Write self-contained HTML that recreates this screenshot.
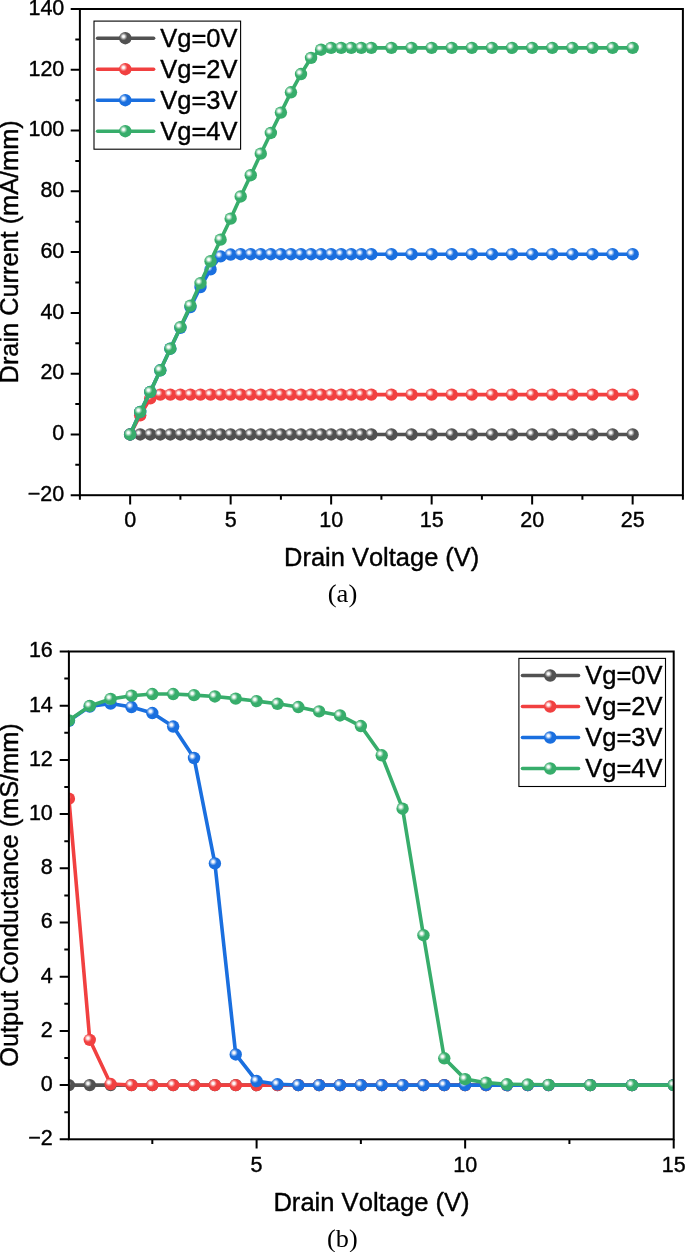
<!DOCTYPE html>
<html><head><meta charset="utf-8"><title>Drain characteristics</title><style>
html,body{margin:0;padding:0;background:#fff;}
body{width:685px;height:1252px;overflow:hidden;}
svg{display:block;}
text{font-kerning:none;stroke:#000;stroke-width:0.4px;stroke-linejoin:round;}
.tk{font-family:"Liberation Sans",Arial,sans-serif;font-size:21.5px;fill:#000;}
.tt{font-family:"Liberation Sans",Arial,sans-serif;font-size:25.5px;fill:#000;}
.lg{font-family:"Liberation Sans",Arial,sans-serif;font-size:25.5px;fill:#000;}
.cap{font-family:"Liberation Serif","DejaVu Serif",serif;font-size:24px;fill:#000;stroke:none;}
</style></head>
<body><svg width="685" height="1252" viewBox="0 0 685 1252">
<defs><radialGradient id="hl" cx="0.5" cy="0.5" r="0.5"><stop offset="0" stop-color="#fff" stop-opacity="1"/><stop offset="0.3" stop-color="#fff" stop-opacity="0.92"/><stop offset="0.65" stop-color="#fff" stop-opacity="0.4"/><stop offset="1" stop-color="#fff" stop-opacity="0"/></radialGradient><clipPath id="ca"><rect x="79.9" y="9.0" width="603" height="486.2"/></clipPath><clipPath id="cb"><rect x="68.9" y="651.5" width="604.8" height="487.8"/></clipPath></defs>
<rect width="685" height="1252" fill="#fff"/>
<g clip-path="url(#ca)"><polyline points="130.15,434.43 140.2,434.43 150.25,434.43 160.3,434.43 170.35,434.43 180.4,434.43 190.45,434.43 200.5,434.43 210.55,434.43 220.6,434.43 230.65,434.43 240.7,434.43 250.75,434.43 260.8,434.43 270.85,434.43 280.9,434.43 290.95,434.43 301,434.43 311.05,434.43 321.1,434.43 331.15,434.43 341.2,434.43 351.25,434.43 361.3,434.43 371.35,434.43 391.45,434.43 411.55,434.43 431.65,434.43 451.75,434.43 471.85,434.43 491.95,434.43 512.05,434.43 532.15,434.43 552.25,434.43 572.35,434.43 592.45,434.43 612.55,434.43 632.65,434.43" fill="none" stroke="#515151" stroke-width="3.6" stroke-linejoin="round"/><circle cx="130.15" cy="434.43" r="6.2" fill="#515151"/><circle cx="128.35" cy="432.73" r="3.9" fill="url(#hl)"/><circle cx="140.2" cy="434.43" r="6.2" fill="#515151"/><circle cx="138.4" cy="432.73" r="3.9" fill="url(#hl)"/><circle cx="150.25" cy="434.43" r="6.2" fill="#515151"/><circle cx="148.45" cy="432.73" r="3.9" fill="url(#hl)"/><circle cx="160.3" cy="434.43" r="6.2" fill="#515151"/><circle cx="158.5" cy="432.73" r="3.9" fill="url(#hl)"/><circle cx="170.35" cy="434.43" r="6.2" fill="#515151"/><circle cx="168.55" cy="432.73" r="3.9" fill="url(#hl)"/><circle cx="180.4" cy="434.43" r="6.2" fill="#515151"/><circle cx="178.6" cy="432.73" r="3.9" fill="url(#hl)"/><circle cx="190.45" cy="434.43" r="6.2" fill="#515151"/><circle cx="188.65" cy="432.73" r="3.9" fill="url(#hl)"/><circle cx="200.5" cy="434.43" r="6.2" fill="#515151"/><circle cx="198.7" cy="432.73" r="3.9" fill="url(#hl)"/><circle cx="210.55" cy="434.43" r="6.2" fill="#515151"/><circle cx="208.75" cy="432.73" r="3.9" fill="url(#hl)"/><circle cx="220.6" cy="434.43" r="6.2" fill="#515151"/><circle cx="218.8" cy="432.73" r="3.9" fill="url(#hl)"/><circle cx="230.65" cy="434.43" r="6.2" fill="#515151"/><circle cx="228.85" cy="432.73" r="3.9" fill="url(#hl)"/><circle cx="240.7" cy="434.43" r="6.2" fill="#515151"/><circle cx="238.9" cy="432.73" r="3.9" fill="url(#hl)"/><circle cx="250.75" cy="434.43" r="6.2" fill="#515151"/><circle cx="248.95" cy="432.73" r="3.9" fill="url(#hl)"/><circle cx="260.8" cy="434.43" r="6.2" fill="#515151"/><circle cx="259" cy="432.73" r="3.9" fill="url(#hl)"/><circle cx="270.85" cy="434.43" r="6.2" fill="#515151"/><circle cx="269.05" cy="432.73" r="3.9" fill="url(#hl)"/><circle cx="280.9" cy="434.43" r="6.2" fill="#515151"/><circle cx="279.1" cy="432.73" r="3.9" fill="url(#hl)"/><circle cx="290.95" cy="434.43" r="6.2" fill="#515151"/><circle cx="289.15" cy="432.73" r="3.9" fill="url(#hl)"/><circle cx="301" cy="434.43" r="6.2" fill="#515151"/><circle cx="299.2" cy="432.73" r="3.9" fill="url(#hl)"/><circle cx="311.05" cy="434.43" r="6.2" fill="#515151"/><circle cx="309.25" cy="432.73" r="3.9" fill="url(#hl)"/><circle cx="321.1" cy="434.43" r="6.2" fill="#515151"/><circle cx="319.3" cy="432.73" r="3.9" fill="url(#hl)"/><circle cx="331.15" cy="434.43" r="6.2" fill="#515151"/><circle cx="329.35" cy="432.73" r="3.9" fill="url(#hl)"/><circle cx="341.2" cy="434.43" r="6.2" fill="#515151"/><circle cx="339.4" cy="432.73" r="3.9" fill="url(#hl)"/><circle cx="351.25" cy="434.43" r="6.2" fill="#515151"/><circle cx="349.45" cy="432.73" r="3.9" fill="url(#hl)"/><circle cx="361.3" cy="434.43" r="6.2" fill="#515151"/><circle cx="359.5" cy="432.73" r="3.9" fill="url(#hl)"/><circle cx="371.35" cy="434.43" r="6.2" fill="#515151"/><circle cx="369.55" cy="432.73" r="3.9" fill="url(#hl)"/><circle cx="391.45" cy="434.43" r="6.2" fill="#515151"/><circle cx="389.65" cy="432.73" r="3.9" fill="url(#hl)"/><circle cx="411.55" cy="434.43" r="6.2" fill="#515151"/><circle cx="409.75" cy="432.73" r="3.9" fill="url(#hl)"/><circle cx="431.65" cy="434.43" r="6.2" fill="#515151"/><circle cx="429.85" cy="432.73" r="3.9" fill="url(#hl)"/><circle cx="451.75" cy="434.43" r="6.2" fill="#515151"/><circle cx="449.95" cy="432.73" r="3.9" fill="url(#hl)"/><circle cx="471.85" cy="434.43" r="6.2" fill="#515151"/><circle cx="470.05" cy="432.73" r="3.9" fill="url(#hl)"/><circle cx="491.95" cy="434.43" r="6.2" fill="#515151"/><circle cx="490.15" cy="432.73" r="3.9" fill="url(#hl)"/><circle cx="512.05" cy="434.43" r="6.2" fill="#515151"/><circle cx="510.25" cy="432.73" r="3.9" fill="url(#hl)"/><circle cx="532.15" cy="434.43" r="6.2" fill="#515151"/><circle cx="530.35" cy="432.73" r="3.9" fill="url(#hl)"/><circle cx="552.25" cy="434.43" r="6.2" fill="#515151"/><circle cx="550.45" cy="432.73" r="3.9" fill="url(#hl)"/><circle cx="572.35" cy="434.43" r="6.2" fill="#515151"/><circle cx="570.55" cy="432.73" r="3.9" fill="url(#hl)"/><circle cx="592.45" cy="434.43" r="6.2" fill="#515151"/><circle cx="590.65" cy="432.73" r="3.9" fill="url(#hl)"/><circle cx="612.55" cy="434.43" r="6.2" fill="#515151"/><circle cx="610.75" cy="432.73" r="3.9" fill="url(#hl)"/><circle cx="632.65" cy="434.43" r="6.2" fill="#515151"/><circle cx="630.85" cy="432.73" r="3.9" fill="url(#hl)"/></g><g clip-path="url(#ca)"><polyline points="130.15,434.43 140.2,415.28 150.25,398.26 160.3,394.62 170.35,394.62 180.4,394.62 190.45,394.62 200.5,394.62 210.55,394.62 220.6,394.62 230.65,394.62 240.7,394.62 250.75,394.62 260.8,394.62 270.85,394.62 280.9,394.62 290.95,394.62 301,394.62 311.05,394.62 321.1,394.62 331.15,394.62 341.2,394.62 351.25,394.62 361.3,394.62 371.35,394.62 391.45,394.62 411.55,394.62 431.65,394.62 451.75,394.62 471.85,394.62 491.95,394.62 512.05,394.62 532.15,394.62 552.25,394.62 572.35,394.62 592.45,394.62 612.55,394.62 632.65,394.62" fill="none" stroke="#F14040" stroke-width="3.6" stroke-linejoin="round"/><circle cx="130.15" cy="434.43" r="6.2" fill="#F14040"/><circle cx="128.35" cy="432.73" r="3.9" fill="url(#hl)"/><circle cx="140.2" cy="415.28" r="6.2" fill="#F14040"/><circle cx="138.4" cy="413.58" r="3.9" fill="url(#hl)"/><circle cx="150.25" cy="398.26" r="6.2" fill="#F14040"/><circle cx="148.45" cy="396.56" r="3.9" fill="url(#hl)"/><circle cx="160.3" cy="394.62" r="6.2" fill="#F14040"/><circle cx="158.5" cy="392.92" r="3.9" fill="url(#hl)"/><circle cx="170.35" cy="394.62" r="6.2" fill="#F14040"/><circle cx="168.55" cy="392.92" r="3.9" fill="url(#hl)"/><circle cx="180.4" cy="394.62" r="6.2" fill="#F14040"/><circle cx="178.6" cy="392.92" r="3.9" fill="url(#hl)"/><circle cx="190.45" cy="394.62" r="6.2" fill="#F14040"/><circle cx="188.65" cy="392.92" r="3.9" fill="url(#hl)"/><circle cx="200.5" cy="394.62" r="6.2" fill="#F14040"/><circle cx="198.7" cy="392.92" r="3.9" fill="url(#hl)"/><circle cx="210.55" cy="394.62" r="6.2" fill="#F14040"/><circle cx="208.75" cy="392.92" r="3.9" fill="url(#hl)"/><circle cx="220.6" cy="394.62" r="6.2" fill="#F14040"/><circle cx="218.8" cy="392.92" r="3.9" fill="url(#hl)"/><circle cx="230.65" cy="394.62" r="6.2" fill="#F14040"/><circle cx="228.85" cy="392.92" r="3.9" fill="url(#hl)"/><circle cx="240.7" cy="394.62" r="6.2" fill="#F14040"/><circle cx="238.9" cy="392.92" r="3.9" fill="url(#hl)"/><circle cx="250.75" cy="394.62" r="6.2" fill="#F14040"/><circle cx="248.95" cy="392.92" r="3.9" fill="url(#hl)"/><circle cx="260.8" cy="394.62" r="6.2" fill="#F14040"/><circle cx="259" cy="392.92" r="3.9" fill="url(#hl)"/><circle cx="270.85" cy="394.62" r="6.2" fill="#F14040"/><circle cx="269.05" cy="392.92" r="3.9" fill="url(#hl)"/><circle cx="280.9" cy="394.62" r="6.2" fill="#F14040"/><circle cx="279.1" cy="392.92" r="3.9" fill="url(#hl)"/><circle cx="290.95" cy="394.62" r="6.2" fill="#F14040"/><circle cx="289.15" cy="392.92" r="3.9" fill="url(#hl)"/><circle cx="301" cy="394.62" r="6.2" fill="#F14040"/><circle cx="299.2" cy="392.92" r="3.9" fill="url(#hl)"/><circle cx="311.05" cy="394.62" r="6.2" fill="#F14040"/><circle cx="309.25" cy="392.92" r="3.9" fill="url(#hl)"/><circle cx="321.1" cy="394.62" r="6.2" fill="#F14040"/><circle cx="319.3" cy="392.92" r="3.9" fill="url(#hl)"/><circle cx="331.15" cy="394.62" r="6.2" fill="#F14040"/><circle cx="329.35" cy="392.92" r="3.9" fill="url(#hl)"/><circle cx="341.2" cy="394.62" r="6.2" fill="#F14040"/><circle cx="339.4" cy="392.92" r="3.9" fill="url(#hl)"/><circle cx="351.25" cy="394.62" r="6.2" fill="#F14040"/><circle cx="349.45" cy="392.92" r="3.9" fill="url(#hl)"/><circle cx="361.3" cy="394.62" r="6.2" fill="#F14040"/><circle cx="359.5" cy="392.92" r="3.9" fill="url(#hl)"/><circle cx="371.35" cy="394.62" r="6.2" fill="#F14040"/><circle cx="369.55" cy="392.92" r="3.9" fill="url(#hl)"/><circle cx="391.45" cy="394.62" r="6.2" fill="#F14040"/><circle cx="389.65" cy="392.92" r="3.9" fill="url(#hl)"/><circle cx="411.55" cy="394.62" r="6.2" fill="#F14040"/><circle cx="409.75" cy="392.92" r="3.9" fill="url(#hl)"/><circle cx="431.65" cy="394.62" r="6.2" fill="#F14040"/><circle cx="429.85" cy="392.92" r="3.9" fill="url(#hl)"/><circle cx="451.75" cy="394.62" r="6.2" fill="#F14040"/><circle cx="449.95" cy="392.92" r="3.9" fill="url(#hl)"/><circle cx="471.85" cy="394.62" r="6.2" fill="#F14040"/><circle cx="470.05" cy="392.92" r="3.9" fill="url(#hl)"/><circle cx="491.95" cy="394.62" r="6.2" fill="#F14040"/><circle cx="490.15" cy="392.92" r="3.9" fill="url(#hl)"/><circle cx="512.05" cy="394.62" r="6.2" fill="#F14040"/><circle cx="510.25" cy="392.92" r="3.9" fill="url(#hl)"/><circle cx="532.15" cy="394.62" r="6.2" fill="#F14040"/><circle cx="530.35" cy="392.92" r="3.9" fill="url(#hl)"/><circle cx="552.25" cy="394.62" r="6.2" fill="#F14040"/><circle cx="550.45" cy="392.92" r="3.9" fill="url(#hl)"/><circle cx="572.35" cy="394.62" r="6.2" fill="#F14040"/><circle cx="570.55" cy="392.92" r="3.9" fill="url(#hl)"/><circle cx="592.45" cy="394.62" r="6.2" fill="#F14040"/><circle cx="590.65" cy="392.92" r="3.9" fill="url(#hl)"/><circle cx="612.55" cy="394.62" r="6.2" fill="#F14040"/><circle cx="610.75" cy="392.92" r="3.9" fill="url(#hl)"/><circle cx="632.65" cy="394.62" r="6.2" fill="#F14040"/><circle cx="630.85" cy="392.92" r="3.9" fill="url(#hl)"/></g><g clip-path="url(#ca)"><polyline points="130.15,434.43 140.2,411.94 150.25,391.88 160.3,370.31 170.35,348.73 180.4,327.76 190.45,307.1 200.5,287.05 210.55,269.42 220.6,256.35 230.65,254.53 240.7,254.23 250.75,254.23 260.8,254.23 270.85,254.23 280.9,254.23 290.95,254.23 301,254.23 311.05,254.23 321.1,254.23 331.15,254.23 341.2,254.23 351.25,254.23 361.3,254.23 371.35,254.23 391.45,254.23 411.55,254.23 431.65,254.23 451.75,254.23 471.85,254.23 491.95,254.23 512.05,254.23 532.15,254.23 552.25,254.23 572.35,254.23 592.45,254.23 612.55,254.23 632.65,254.23" fill="none" stroke="#1A6FDF" stroke-width="3.6" stroke-linejoin="round"/><circle cx="130.15" cy="434.43" r="6.2" fill="#1A6FDF"/><circle cx="128.35" cy="432.73" r="3.9" fill="url(#hl)"/><circle cx="140.2" cy="411.94" r="6.2" fill="#1A6FDF"/><circle cx="138.4" cy="410.24" r="3.9" fill="url(#hl)"/><circle cx="150.25" cy="391.88" r="6.2" fill="#1A6FDF"/><circle cx="148.45" cy="390.18" r="3.9" fill="url(#hl)"/><circle cx="160.3" cy="370.31" r="6.2" fill="#1A6FDF"/><circle cx="158.5" cy="368.61" r="3.9" fill="url(#hl)"/><circle cx="170.35" cy="348.73" r="6.2" fill="#1A6FDF"/><circle cx="168.55" cy="347.03" r="3.9" fill="url(#hl)"/><circle cx="180.4" cy="327.76" r="6.2" fill="#1A6FDF"/><circle cx="178.6" cy="326.06" r="3.9" fill="url(#hl)"/><circle cx="190.45" cy="307.1" r="6.2" fill="#1A6FDF"/><circle cx="188.65" cy="305.4" r="3.9" fill="url(#hl)"/><circle cx="200.5" cy="287.05" r="6.2" fill="#1A6FDF"/><circle cx="198.7" cy="285.35" r="3.9" fill="url(#hl)"/><circle cx="210.55" cy="269.42" r="6.2" fill="#1A6FDF"/><circle cx="208.75" cy="267.72" r="3.9" fill="url(#hl)"/><circle cx="220.6" cy="256.35" r="6.2" fill="#1A6FDF"/><circle cx="218.8" cy="254.65" r="3.9" fill="url(#hl)"/><circle cx="230.65" cy="254.53" r="6.2" fill="#1A6FDF"/><circle cx="228.85" cy="252.83" r="3.9" fill="url(#hl)"/><circle cx="240.7" cy="254.23" r="6.2" fill="#1A6FDF"/><circle cx="238.9" cy="252.53" r="3.9" fill="url(#hl)"/><circle cx="250.75" cy="254.23" r="6.2" fill="#1A6FDF"/><circle cx="248.95" cy="252.53" r="3.9" fill="url(#hl)"/><circle cx="260.8" cy="254.23" r="6.2" fill="#1A6FDF"/><circle cx="259" cy="252.53" r="3.9" fill="url(#hl)"/><circle cx="270.85" cy="254.23" r="6.2" fill="#1A6FDF"/><circle cx="269.05" cy="252.53" r="3.9" fill="url(#hl)"/><circle cx="280.9" cy="254.23" r="6.2" fill="#1A6FDF"/><circle cx="279.1" cy="252.53" r="3.9" fill="url(#hl)"/><circle cx="290.95" cy="254.23" r="6.2" fill="#1A6FDF"/><circle cx="289.15" cy="252.53" r="3.9" fill="url(#hl)"/><circle cx="301" cy="254.23" r="6.2" fill="#1A6FDF"/><circle cx="299.2" cy="252.53" r="3.9" fill="url(#hl)"/><circle cx="311.05" cy="254.23" r="6.2" fill="#1A6FDF"/><circle cx="309.25" cy="252.53" r="3.9" fill="url(#hl)"/><circle cx="321.1" cy="254.23" r="6.2" fill="#1A6FDF"/><circle cx="319.3" cy="252.53" r="3.9" fill="url(#hl)"/><circle cx="331.15" cy="254.23" r="6.2" fill="#1A6FDF"/><circle cx="329.35" cy="252.53" r="3.9" fill="url(#hl)"/><circle cx="341.2" cy="254.23" r="6.2" fill="#1A6FDF"/><circle cx="339.4" cy="252.53" r="3.9" fill="url(#hl)"/><circle cx="351.25" cy="254.23" r="6.2" fill="#1A6FDF"/><circle cx="349.45" cy="252.53" r="3.9" fill="url(#hl)"/><circle cx="361.3" cy="254.23" r="6.2" fill="#1A6FDF"/><circle cx="359.5" cy="252.53" r="3.9" fill="url(#hl)"/><circle cx="371.35" cy="254.23" r="6.2" fill="#1A6FDF"/><circle cx="369.55" cy="252.53" r="3.9" fill="url(#hl)"/><circle cx="391.45" cy="254.23" r="6.2" fill="#1A6FDF"/><circle cx="389.65" cy="252.53" r="3.9" fill="url(#hl)"/><circle cx="411.55" cy="254.23" r="6.2" fill="#1A6FDF"/><circle cx="409.75" cy="252.53" r="3.9" fill="url(#hl)"/><circle cx="431.65" cy="254.23" r="6.2" fill="#1A6FDF"/><circle cx="429.85" cy="252.53" r="3.9" fill="url(#hl)"/><circle cx="451.75" cy="254.23" r="6.2" fill="#1A6FDF"/><circle cx="449.95" cy="252.53" r="3.9" fill="url(#hl)"/><circle cx="471.85" cy="254.23" r="6.2" fill="#1A6FDF"/><circle cx="470.05" cy="252.53" r="3.9" fill="url(#hl)"/><circle cx="491.95" cy="254.23" r="6.2" fill="#1A6FDF"/><circle cx="490.15" cy="252.53" r="3.9" fill="url(#hl)"/><circle cx="512.05" cy="254.23" r="6.2" fill="#1A6FDF"/><circle cx="510.25" cy="252.53" r="3.9" fill="url(#hl)"/><circle cx="532.15" cy="254.23" r="6.2" fill="#1A6FDF"/><circle cx="530.35" cy="252.53" r="3.9" fill="url(#hl)"/><circle cx="552.25" cy="254.23" r="6.2" fill="#1A6FDF"/><circle cx="550.45" cy="252.53" r="3.9" fill="url(#hl)"/><circle cx="572.35" cy="254.23" r="6.2" fill="#1A6FDF"/><circle cx="570.55" cy="252.53" r="3.9" fill="url(#hl)"/><circle cx="592.45" cy="254.23" r="6.2" fill="#1A6FDF"/><circle cx="590.65" cy="252.53" r="3.9" fill="url(#hl)"/><circle cx="612.55" cy="254.23" r="6.2" fill="#1A6FDF"/><circle cx="610.75" cy="252.53" r="3.9" fill="url(#hl)"/><circle cx="632.65" cy="254.23" r="6.2" fill="#1A6FDF"/><circle cx="630.85" cy="252.53" r="3.9" fill="url(#hl)"/></g><g clip-path="url(#ca)"><polyline points="130.15,434.43 140.2,411.94 150.25,391.88 160.3,370.31 170.35,348.73 180.4,327.16 190.45,305.58 200.5,283.1 210.55,261.22 220.6,239.64 230.65,218.67 240.7,196.49 250.75,175.22 260.8,153.64 270.85,132.98 280.9,112.62 290.95,92.26 301,74.03 311.05,57.92 321.1,49.72 331.15,47.9 341.2,47.9 351.25,47.9 361.3,47.9 371.35,47.9 391.45,47.9 411.55,47.9 431.65,47.9 451.75,47.9 471.85,47.9 491.95,47.9 512.05,47.9 532.15,47.9 552.25,47.9 572.35,47.9 592.45,47.9 612.55,47.9 632.65,47.9" fill="none" stroke="#37AD6B" stroke-width="3.6" stroke-linejoin="round"/><circle cx="130.15" cy="434.43" r="6.2" fill="#37AD6B"/><circle cx="128.35" cy="432.73" r="3.9" fill="url(#hl)"/><circle cx="140.2" cy="411.94" r="6.2" fill="#37AD6B"/><circle cx="138.4" cy="410.24" r="3.9" fill="url(#hl)"/><circle cx="150.25" cy="391.88" r="6.2" fill="#37AD6B"/><circle cx="148.45" cy="390.18" r="3.9" fill="url(#hl)"/><circle cx="160.3" cy="370.31" r="6.2" fill="#37AD6B"/><circle cx="158.5" cy="368.61" r="3.9" fill="url(#hl)"/><circle cx="170.35" cy="348.73" r="6.2" fill="#37AD6B"/><circle cx="168.55" cy="347.03" r="3.9" fill="url(#hl)"/><circle cx="180.4" cy="327.16" r="6.2" fill="#37AD6B"/><circle cx="178.6" cy="325.46" r="3.9" fill="url(#hl)"/><circle cx="190.45" cy="305.58" r="6.2" fill="#37AD6B"/><circle cx="188.65" cy="303.88" r="3.9" fill="url(#hl)"/><circle cx="200.5" cy="283.1" r="6.2" fill="#37AD6B"/><circle cx="198.7" cy="281.4" r="3.9" fill="url(#hl)"/><circle cx="210.55" cy="261.22" r="6.2" fill="#37AD6B"/><circle cx="208.75" cy="259.52" r="3.9" fill="url(#hl)"/><circle cx="220.6" cy="239.64" r="6.2" fill="#37AD6B"/><circle cx="218.8" cy="237.94" r="3.9" fill="url(#hl)"/><circle cx="230.65" cy="218.67" r="6.2" fill="#37AD6B"/><circle cx="228.85" cy="216.97" r="3.9" fill="url(#hl)"/><circle cx="240.7" cy="196.49" r="6.2" fill="#37AD6B"/><circle cx="238.9" cy="194.79" r="3.9" fill="url(#hl)"/><circle cx="250.75" cy="175.22" r="6.2" fill="#37AD6B"/><circle cx="248.95" cy="173.52" r="3.9" fill="url(#hl)"/><circle cx="260.8" cy="153.64" r="6.2" fill="#37AD6B"/><circle cx="259" cy="151.94" r="3.9" fill="url(#hl)"/><circle cx="270.85" cy="132.98" r="6.2" fill="#37AD6B"/><circle cx="269.05" cy="131.28" r="3.9" fill="url(#hl)"/><circle cx="280.9" cy="112.62" r="6.2" fill="#37AD6B"/><circle cx="279.1" cy="110.92" r="3.9" fill="url(#hl)"/><circle cx="290.95" cy="92.26" r="6.2" fill="#37AD6B"/><circle cx="289.15" cy="90.56" r="3.9" fill="url(#hl)"/><circle cx="301" cy="74.03" r="6.2" fill="#37AD6B"/><circle cx="299.2" cy="72.33" r="3.9" fill="url(#hl)"/><circle cx="311.05" cy="57.92" r="6.2" fill="#37AD6B"/><circle cx="309.25" cy="56.22" r="3.9" fill="url(#hl)"/><circle cx="321.1" cy="49.72" r="6.2" fill="#37AD6B"/><circle cx="319.3" cy="48.02" r="3.9" fill="url(#hl)"/><circle cx="331.15" cy="47.9" r="6.2" fill="#37AD6B"/><circle cx="329.35" cy="46.2" r="3.9" fill="url(#hl)"/><circle cx="341.2" cy="47.9" r="6.2" fill="#37AD6B"/><circle cx="339.4" cy="46.2" r="3.9" fill="url(#hl)"/><circle cx="351.25" cy="47.9" r="6.2" fill="#37AD6B"/><circle cx="349.45" cy="46.2" r="3.9" fill="url(#hl)"/><circle cx="361.3" cy="47.9" r="6.2" fill="#37AD6B"/><circle cx="359.5" cy="46.2" r="3.9" fill="url(#hl)"/><circle cx="371.35" cy="47.9" r="6.2" fill="#37AD6B"/><circle cx="369.55" cy="46.2" r="3.9" fill="url(#hl)"/><circle cx="391.45" cy="47.9" r="6.2" fill="#37AD6B"/><circle cx="389.65" cy="46.2" r="3.9" fill="url(#hl)"/><circle cx="411.55" cy="47.9" r="6.2" fill="#37AD6B"/><circle cx="409.75" cy="46.2" r="3.9" fill="url(#hl)"/><circle cx="431.65" cy="47.9" r="6.2" fill="#37AD6B"/><circle cx="429.85" cy="46.2" r="3.9" fill="url(#hl)"/><circle cx="451.75" cy="47.9" r="6.2" fill="#37AD6B"/><circle cx="449.95" cy="46.2" r="3.9" fill="url(#hl)"/><circle cx="471.85" cy="47.9" r="6.2" fill="#37AD6B"/><circle cx="470.05" cy="46.2" r="3.9" fill="url(#hl)"/><circle cx="491.95" cy="47.9" r="6.2" fill="#37AD6B"/><circle cx="490.15" cy="46.2" r="3.9" fill="url(#hl)"/><circle cx="512.05" cy="47.9" r="6.2" fill="#37AD6B"/><circle cx="510.25" cy="46.2" r="3.9" fill="url(#hl)"/><circle cx="532.15" cy="47.9" r="6.2" fill="#37AD6B"/><circle cx="530.35" cy="46.2" r="3.9" fill="url(#hl)"/><circle cx="552.25" cy="47.9" r="6.2" fill="#37AD6B"/><circle cx="550.45" cy="46.2" r="3.9" fill="url(#hl)"/><circle cx="572.35" cy="47.9" r="6.2" fill="#37AD6B"/><circle cx="570.55" cy="46.2" r="3.9" fill="url(#hl)"/><circle cx="592.45" cy="47.9" r="6.2" fill="#37AD6B"/><circle cx="590.65" cy="46.2" r="3.9" fill="url(#hl)"/><circle cx="612.55" cy="47.9" r="6.2" fill="#37AD6B"/><circle cx="610.75" cy="46.2" r="3.9" fill="url(#hl)"/><circle cx="632.65" cy="47.9" r="6.2" fill="#37AD6B"/><circle cx="630.85" cy="46.2" r="3.9" fill="url(#hl)"/></g><rect x="79.9" y="9" width="603" height="486.2" fill="none" stroke="#000" stroke-width="2.0"/><path d="M70.7 495.2H79.9M70.7 434.43H79.9M70.7 373.65H79.9M70.7 312.88H79.9M70.7 252.1H79.9M70.7 191.32H79.9M70.7 130.55H79.9M70.7 69.77H79.9M70.7 9H79.9M75.3 464.81H79.9M75.3 404.04H79.9M75.3 343.26H79.9M75.3 282.49H79.9M75.3 221.71H79.9M75.3 160.94H79.9M75.3 100.16H79.9M75.3 39.39H79.9M130.15 495.2V504.4M230.65 495.2V504.4M331.15 495.2V504.4M431.65 495.2V504.4M532.15 495.2V504.4M632.65 495.2V504.4M79.9 495.2V499.8M180.4 495.2V499.8M280.9 495.2V499.8M381.4 495.2V499.8M481.9 495.2V499.8M582.4 495.2V499.8M682.9 495.2V499.8" stroke="#000" stroke-width="2.0" fill="none"/><text x="64.3" y="501" text-anchor="end" class="tk">−20</text><text x="64.3" y="440.23" text-anchor="end" class="tk">0</text><text x="64.3" y="379.45" text-anchor="end" class="tk">20</text><text x="64.3" y="318.68" text-anchor="end" class="tk">40</text><text x="64.3" y="257.9" text-anchor="end" class="tk">60</text><text x="64.3" y="197.12" text-anchor="end" class="tk">80</text><text x="64.3" y="136.35" text-anchor="end" class="tk">100</text><text x="64.3" y="75.57" text-anchor="end" class="tk">120</text><text x="64.3" y="14.8" text-anchor="end" class="tk">140</text><text x="130.15" y="526.8" text-anchor="middle" class="tk">0</text><text x="230.65" y="526.8" text-anchor="middle" class="tk">5</text><text x="331.15" y="526.8" text-anchor="middle" class="tk">10</text><text x="431.65" y="526.8" text-anchor="middle" class="tk">15</text><text x="532.15" y="526.8" text-anchor="middle" class="tk">20</text><text x="632.65" y="526.8" text-anchor="middle" class="tk">25</text><rect x="94" y="21.1" width="146.6" height="128.1" fill="#fff" stroke="#000" stroke-width="1.1"/><line x1="97.6" y1="38.2" x2="153.6" y2="38.2" stroke="#515151" stroke-width="3.6" stroke-linecap="round"/><circle cx="125.3" cy="38.2" r="6.2" fill="#515151"/><circle cx="123.5" cy="36.5" r="3.9" fill="url(#hl)"/><text x="160.29" y="46.8" class="lg">Vg=0V</text><line x1="97.6" y1="69.2" x2="153.6" y2="69.2" stroke="#F14040" stroke-width="3.6" stroke-linecap="round"/><circle cx="125.3" cy="69.2" r="6.2" fill="#F14040"/><circle cx="123.5" cy="67.5" r="3.9" fill="url(#hl)"/><text x="160.29" y="77.8" class="lg">Vg=2V</text><line x1="97.6" y1="100.2" x2="153.6" y2="100.2" stroke="#1A6FDF" stroke-width="3.6" stroke-linecap="round"/><circle cx="125.3" cy="100.2" r="6.2" fill="#1A6FDF"/><circle cx="123.5" cy="98.5" r="3.9" fill="url(#hl)"/><text x="160.29" y="108.8" class="lg">Vg=3V</text><line x1="97.6" y1="131.2" x2="153.6" y2="131.2" stroke="#37AD6B" stroke-width="3.6" stroke-linecap="round"/><circle cx="125.3" cy="131.2" r="6.2" fill="#37AD6B"/><circle cx="123.5" cy="129.5" r="3.9" fill="url(#hl)"/><text x="160.29" y="139.8" class="lg">Vg=4V</text><text transform="matrix(0.9984 0 0 1.0317 284.11 566.00)" class="tt">Drain Voltage (V)</text><text transform="translate(18.0,383.38) rotate(-90) scale(0.9933,1)" class="tt">Drain Current (mA/mm)</text><text transform="matrix(1.1090 0 0 1.0247 327.73 601.66)" class="cap">(a)</text><g clip-path="url(#cb)"><polyline points="68.9,1085.1 89.76,1085.1 110.61,1085.1 131.47,1085.1 152.32,1085.1 173.18,1085.1 194.03,1085.1 214.89,1085.1 235.74,1085.1 256.6,1085.1 277.45,1085.1 298.31,1085.1 319.16,1085.1 340.02,1085.1 360.87,1085.1 381.73,1085.1 402.58,1085.1 423.44,1085.1 444.29,1085.1 465.15,1085.1 486,1085.1 506.86,1085.1 527.71,1085.1 548.57,1085.1 590.28,1085.1 631.99,1085.1 673.7,1085.1" fill="none" stroke="#515151" stroke-width="3.6" stroke-linejoin="round"/><circle cx="68.9" cy="1085.1" r="6.2" fill="#515151"/><circle cx="67.1" cy="1083.4" r="3.9" fill="url(#hl)"/><circle cx="89.76" cy="1085.1" r="6.2" fill="#515151"/><circle cx="87.96" cy="1083.4" r="3.9" fill="url(#hl)"/><circle cx="110.61" cy="1085.1" r="6.2" fill="#515151"/><circle cx="108.81" cy="1083.4" r="3.9" fill="url(#hl)"/><circle cx="131.47" cy="1085.1" r="6.2" fill="#515151"/><circle cx="129.67" cy="1083.4" r="3.9" fill="url(#hl)"/><circle cx="152.32" cy="1085.1" r="6.2" fill="#515151"/><circle cx="150.52" cy="1083.4" r="3.9" fill="url(#hl)"/><circle cx="173.18" cy="1085.1" r="6.2" fill="#515151"/><circle cx="171.38" cy="1083.4" r="3.9" fill="url(#hl)"/><circle cx="194.03" cy="1085.1" r="6.2" fill="#515151"/><circle cx="192.23" cy="1083.4" r="3.9" fill="url(#hl)"/><circle cx="214.89" cy="1085.1" r="6.2" fill="#515151"/><circle cx="213.09" cy="1083.4" r="3.9" fill="url(#hl)"/><circle cx="235.74" cy="1085.1" r="6.2" fill="#515151"/><circle cx="233.94" cy="1083.4" r="3.9" fill="url(#hl)"/><circle cx="256.6" cy="1085.1" r="6.2" fill="#515151"/><circle cx="254.8" cy="1083.4" r="3.9" fill="url(#hl)"/><circle cx="277.45" cy="1085.1" r="6.2" fill="#515151"/><circle cx="275.65" cy="1083.4" r="3.9" fill="url(#hl)"/><circle cx="298.31" cy="1085.1" r="6.2" fill="#515151"/><circle cx="296.51" cy="1083.4" r="3.9" fill="url(#hl)"/><circle cx="319.16" cy="1085.1" r="6.2" fill="#515151"/><circle cx="317.36" cy="1083.4" r="3.9" fill="url(#hl)"/><circle cx="340.02" cy="1085.1" r="6.2" fill="#515151"/><circle cx="338.22" cy="1083.4" r="3.9" fill="url(#hl)"/><circle cx="360.87" cy="1085.1" r="6.2" fill="#515151"/><circle cx="359.07" cy="1083.4" r="3.9" fill="url(#hl)"/><circle cx="381.73" cy="1085.1" r="6.2" fill="#515151"/><circle cx="379.93" cy="1083.4" r="3.9" fill="url(#hl)"/><circle cx="402.58" cy="1085.1" r="6.2" fill="#515151"/><circle cx="400.78" cy="1083.4" r="3.9" fill="url(#hl)"/><circle cx="423.44" cy="1085.1" r="6.2" fill="#515151"/><circle cx="421.64" cy="1083.4" r="3.9" fill="url(#hl)"/><circle cx="444.29" cy="1085.1" r="6.2" fill="#515151"/><circle cx="442.49" cy="1083.4" r="3.9" fill="url(#hl)"/><circle cx="465.15" cy="1085.1" r="6.2" fill="#515151"/><circle cx="463.35" cy="1083.4" r="3.9" fill="url(#hl)"/><circle cx="486" cy="1085.1" r="6.2" fill="#515151"/><circle cx="484.2" cy="1083.4" r="3.9" fill="url(#hl)"/><circle cx="506.86" cy="1085.1" r="6.2" fill="#515151"/><circle cx="505.06" cy="1083.4" r="3.9" fill="url(#hl)"/><circle cx="527.71" cy="1085.1" r="6.2" fill="#515151"/><circle cx="525.91" cy="1083.4" r="3.9" fill="url(#hl)"/><circle cx="548.57" cy="1085.1" r="6.2" fill="#515151"/><circle cx="546.77" cy="1083.4" r="3.9" fill="url(#hl)"/><circle cx="590.28" cy="1085.1" r="6.2" fill="#515151"/><circle cx="588.48" cy="1083.4" r="3.9" fill="url(#hl)"/><circle cx="631.99" cy="1085.1" r="6.2" fill="#515151"/><circle cx="630.19" cy="1083.4" r="3.9" fill="url(#hl)"/><circle cx="673.7" cy="1085.1" r="6.2" fill="#515151"/><circle cx="671.9" cy="1083.4" r="3.9" fill="url(#hl)"/></g><g clip-path="url(#cb)"><polyline points="68.9,798.65 89.76,1039.84 110.61,1084.02 131.47,1085.1 152.32,1085.1 173.18,1085.1 194.03,1085.1 214.89,1085.1 235.74,1085.1 256.6,1085.1 277.45,1085.1 298.31,1085.1 319.16,1085.1 340.02,1085.1 360.87,1085.1 381.73,1085.1 402.58,1085.1 423.44,1085.1 444.29,1085.1 465.15,1085.1 486,1085.1 506.86,1085.1 527.71,1085.1 548.57,1085.1 590.28,1085.1 631.99,1085.1 673.7,1085.1" fill="none" stroke="#F14040" stroke-width="3.6" stroke-linejoin="round"/><circle cx="68.9" cy="798.65" r="6.2" fill="#F14040"/><circle cx="67.1" cy="796.95" r="3.9" fill="url(#hl)"/><circle cx="89.76" cy="1039.84" r="6.2" fill="#F14040"/><circle cx="87.96" cy="1038.14" r="3.9" fill="url(#hl)"/><circle cx="110.61" cy="1084.02" r="6.2" fill="#F14040"/><circle cx="108.81" cy="1082.32" r="3.9" fill="url(#hl)"/><circle cx="131.47" cy="1085.1" r="6.2" fill="#F14040"/><circle cx="129.67" cy="1083.4" r="3.9" fill="url(#hl)"/><circle cx="152.32" cy="1085.1" r="6.2" fill="#F14040"/><circle cx="150.52" cy="1083.4" r="3.9" fill="url(#hl)"/><circle cx="173.18" cy="1085.1" r="6.2" fill="#F14040"/><circle cx="171.38" cy="1083.4" r="3.9" fill="url(#hl)"/><circle cx="194.03" cy="1085.1" r="6.2" fill="#F14040"/><circle cx="192.23" cy="1083.4" r="3.9" fill="url(#hl)"/><circle cx="214.89" cy="1085.1" r="6.2" fill="#F14040"/><circle cx="213.09" cy="1083.4" r="3.9" fill="url(#hl)"/><circle cx="235.74" cy="1085.1" r="6.2" fill="#F14040"/><circle cx="233.94" cy="1083.4" r="3.9" fill="url(#hl)"/><circle cx="256.6" cy="1085.1" r="6.2" fill="#F14040"/><circle cx="254.8" cy="1083.4" r="3.9" fill="url(#hl)"/><circle cx="277.45" cy="1085.1" r="6.2" fill="#F14040"/><circle cx="275.65" cy="1083.4" r="3.9" fill="url(#hl)"/><circle cx="298.31" cy="1085.1" r="6.2" fill="#F14040"/><circle cx="296.51" cy="1083.4" r="3.9" fill="url(#hl)"/><circle cx="319.16" cy="1085.1" r="6.2" fill="#F14040"/><circle cx="317.36" cy="1083.4" r="3.9" fill="url(#hl)"/><circle cx="340.02" cy="1085.1" r="6.2" fill="#F14040"/><circle cx="338.22" cy="1083.4" r="3.9" fill="url(#hl)"/><circle cx="360.87" cy="1085.1" r="6.2" fill="#F14040"/><circle cx="359.07" cy="1083.4" r="3.9" fill="url(#hl)"/><circle cx="381.73" cy="1085.1" r="6.2" fill="#F14040"/><circle cx="379.93" cy="1083.4" r="3.9" fill="url(#hl)"/><circle cx="402.58" cy="1085.1" r="6.2" fill="#F14040"/><circle cx="400.78" cy="1083.4" r="3.9" fill="url(#hl)"/><circle cx="423.44" cy="1085.1" r="6.2" fill="#F14040"/><circle cx="421.64" cy="1083.4" r="3.9" fill="url(#hl)"/><circle cx="444.29" cy="1085.1" r="6.2" fill="#F14040"/><circle cx="442.49" cy="1083.4" r="3.9" fill="url(#hl)"/><circle cx="465.15" cy="1085.1" r="6.2" fill="#F14040"/><circle cx="463.35" cy="1083.4" r="3.9" fill="url(#hl)"/><circle cx="486" cy="1085.1" r="6.2" fill="#F14040"/><circle cx="484.2" cy="1083.4" r="3.9" fill="url(#hl)"/><circle cx="506.86" cy="1085.1" r="6.2" fill="#F14040"/><circle cx="505.06" cy="1083.4" r="3.9" fill="url(#hl)"/><circle cx="527.71" cy="1085.1" r="6.2" fill="#F14040"/><circle cx="525.91" cy="1083.4" r="3.9" fill="url(#hl)"/><circle cx="548.57" cy="1085.1" r="6.2" fill="#F14040"/><circle cx="546.77" cy="1083.4" r="3.9" fill="url(#hl)"/><circle cx="590.28" cy="1085.1" r="6.2" fill="#F14040"/><circle cx="588.48" cy="1083.4" r="3.9" fill="url(#hl)"/><circle cx="631.99" cy="1085.1" r="6.2" fill="#F14040"/><circle cx="630.19" cy="1083.4" r="3.9" fill="url(#hl)"/><circle cx="673.7" cy="1085.1" r="6.2" fill="#F14040"/><circle cx="671.9" cy="1083.4" r="3.9" fill="url(#hl)"/></g><g clip-path="url(#cb)"><polyline points="68.9,720.88 89.76,706.51 110.61,703.53 131.47,707.06 152.32,713.02 173.18,726.57 194.03,758 214.89,863.42 235.74,1054.48 256.6,1081.03 277.45,1084.29 298.31,1085.1 319.16,1085.1 340.02,1085.1 360.87,1085.1 381.73,1085.1 402.58,1085.1 423.44,1085.1 444.29,1085.1 465.15,1085.1 486,1085.1 506.86,1085.1 527.71,1085.1 548.57,1085.1 590.28,1085.1 631.99,1085.1 673.7,1085.1" fill="none" stroke="#1A6FDF" stroke-width="3.6" stroke-linejoin="round"/><circle cx="68.9" cy="720.88" r="6.2" fill="#1A6FDF"/><circle cx="67.1" cy="719.18" r="3.9" fill="url(#hl)"/><circle cx="89.76" cy="706.51" r="6.2" fill="#1A6FDF"/><circle cx="87.96" cy="704.81" r="3.9" fill="url(#hl)"/><circle cx="110.61" cy="703.53" r="6.2" fill="#1A6FDF"/><circle cx="108.81" cy="701.83" r="3.9" fill="url(#hl)"/><circle cx="131.47" cy="707.06" r="6.2" fill="#1A6FDF"/><circle cx="129.67" cy="705.36" r="3.9" fill="url(#hl)"/><circle cx="152.32" cy="713.02" r="6.2" fill="#1A6FDF"/><circle cx="150.52" cy="711.32" r="3.9" fill="url(#hl)"/><circle cx="173.18" cy="726.57" r="6.2" fill="#1A6FDF"/><circle cx="171.38" cy="724.87" r="3.9" fill="url(#hl)"/><circle cx="194.03" cy="758" r="6.2" fill="#1A6FDF"/><circle cx="192.23" cy="756.3" r="3.9" fill="url(#hl)"/><circle cx="214.89" cy="863.42" r="6.2" fill="#1A6FDF"/><circle cx="213.09" cy="861.72" r="3.9" fill="url(#hl)"/><circle cx="235.74" cy="1054.48" r="6.2" fill="#1A6FDF"/><circle cx="233.94" cy="1052.78" r="3.9" fill="url(#hl)"/><circle cx="256.6" cy="1081.03" r="6.2" fill="#1A6FDF"/><circle cx="254.8" cy="1079.33" r="3.9" fill="url(#hl)"/><circle cx="277.45" cy="1084.29" r="6.2" fill="#1A6FDF"/><circle cx="275.65" cy="1082.59" r="3.9" fill="url(#hl)"/><circle cx="298.31" cy="1085.1" r="6.2" fill="#1A6FDF"/><circle cx="296.51" cy="1083.4" r="3.9" fill="url(#hl)"/><circle cx="319.16" cy="1085.1" r="6.2" fill="#1A6FDF"/><circle cx="317.36" cy="1083.4" r="3.9" fill="url(#hl)"/><circle cx="340.02" cy="1085.1" r="6.2" fill="#1A6FDF"/><circle cx="338.22" cy="1083.4" r="3.9" fill="url(#hl)"/><circle cx="360.87" cy="1085.1" r="6.2" fill="#1A6FDF"/><circle cx="359.07" cy="1083.4" r="3.9" fill="url(#hl)"/><circle cx="381.73" cy="1085.1" r="6.2" fill="#1A6FDF"/><circle cx="379.93" cy="1083.4" r="3.9" fill="url(#hl)"/><circle cx="402.58" cy="1085.1" r="6.2" fill="#1A6FDF"/><circle cx="400.78" cy="1083.4" r="3.9" fill="url(#hl)"/><circle cx="423.44" cy="1085.1" r="6.2" fill="#1A6FDF"/><circle cx="421.64" cy="1083.4" r="3.9" fill="url(#hl)"/><circle cx="444.29" cy="1085.1" r="6.2" fill="#1A6FDF"/><circle cx="442.49" cy="1083.4" r="3.9" fill="url(#hl)"/><circle cx="465.15" cy="1085.1" r="6.2" fill="#1A6FDF"/><circle cx="463.35" cy="1083.4" r="3.9" fill="url(#hl)"/><circle cx="486" cy="1085.1" r="6.2" fill="#1A6FDF"/><circle cx="484.2" cy="1083.4" r="3.9" fill="url(#hl)"/><circle cx="506.86" cy="1085.1" r="6.2" fill="#1A6FDF"/><circle cx="505.06" cy="1083.4" r="3.9" fill="url(#hl)"/><circle cx="527.71" cy="1085.1" r="6.2" fill="#1A6FDF"/><circle cx="525.91" cy="1083.4" r="3.9" fill="url(#hl)"/><circle cx="548.57" cy="1085.1" r="6.2" fill="#1A6FDF"/><circle cx="546.77" cy="1083.4" r="3.9" fill="url(#hl)"/><circle cx="590.28" cy="1085.1" r="6.2" fill="#1A6FDF"/><circle cx="588.48" cy="1083.4" r="3.9" fill="url(#hl)"/><circle cx="631.99" cy="1085.1" r="6.2" fill="#1A6FDF"/><circle cx="630.19" cy="1083.4" r="3.9" fill="url(#hl)"/><circle cx="673.7" cy="1085.1" r="6.2" fill="#1A6FDF"/><circle cx="671.9" cy="1083.4" r="3.9" fill="url(#hl)"/></g><g clip-path="url(#cb)"><polyline points="68.9,720.33 89.76,705.97 110.61,698.92 131.47,695.67 152.32,694.05 173.18,694.05 194.03,695.13 214.89,696.49 235.74,698.65 256.6,701.09 277.45,703.8 298.31,707.06 319.16,711.39 340.02,715.46 360.87,726.03 381.73,755.29 402.58,808.68 423.44,935.24 444.29,1058.27 465.15,1079.14 486,1082.66 506.86,1084.29 527.71,1084.56 548.57,1084.83 590.28,1085.1 631.99,1085.1 673.7,1085.1" fill="none" stroke="#37AD6B" stroke-width="3.6" stroke-linejoin="round"/><circle cx="68.9" cy="720.33" r="6.2" fill="#37AD6B"/><circle cx="67.1" cy="718.63" r="3.9" fill="url(#hl)"/><circle cx="89.76" cy="705.97" r="6.2" fill="#37AD6B"/><circle cx="87.96" cy="704.27" r="3.9" fill="url(#hl)"/><circle cx="110.61" cy="698.92" r="6.2" fill="#37AD6B"/><circle cx="108.81" cy="697.22" r="3.9" fill="url(#hl)"/><circle cx="131.47" cy="695.67" r="6.2" fill="#37AD6B"/><circle cx="129.67" cy="693.97" r="3.9" fill="url(#hl)"/><circle cx="152.32" cy="694.05" r="6.2" fill="#37AD6B"/><circle cx="150.52" cy="692.35" r="3.9" fill="url(#hl)"/><circle cx="173.18" cy="694.05" r="6.2" fill="#37AD6B"/><circle cx="171.38" cy="692.35" r="3.9" fill="url(#hl)"/><circle cx="194.03" cy="695.13" r="6.2" fill="#37AD6B"/><circle cx="192.23" cy="693.43" r="3.9" fill="url(#hl)"/><circle cx="214.89" cy="696.49" r="6.2" fill="#37AD6B"/><circle cx="213.09" cy="694.79" r="3.9" fill="url(#hl)"/><circle cx="235.74" cy="698.65" r="6.2" fill="#37AD6B"/><circle cx="233.94" cy="696.95" r="3.9" fill="url(#hl)"/><circle cx="256.6" cy="701.09" r="6.2" fill="#37AD6B"/><circle cx="254.8" cy="699.39" r="3.9" fill="url(#hl)"/><circle cx="277.45" cy="703.8" r="6.2" fill="#37AD6B"/><circle cx="275.65" cy="702.1" r="3.9" fill="url(#hl)"/><circle cx="298.31" cy="707.06" r="6.2" fill="#37AD6B"/><circle cx="296.51" cy="705.36" r="3.9" fill="url(#hl)"/><circle cx="319.16" cy="711.39" r="6.2" fill="#37AD6B"/><circle cx="317.36" cy="709.69" r="3.9" fill="url(#hl)"/><circle cx="340.02" cy="715.46" r="6.2" fill="#37AD6B"/><circle cx="338.22" cy="713.76" r="3.9" fill="url(#hl)"/><circle cx="360.87" cy="726.03" r="6.2" fill="#37AD6B"/><circle cx="359.07" cy="724.33" r="3.9" fill="url(#hl)"/><circle cx="381.73" cy="755.29" r="6.2" fill="#37AD6B"/><circle cx="379.93" cy="753.59" r="3.9" fill="url(#hl)"/><circle cx="402.58" cy="808.68" r="6.2" fill="#37AD6B"/><circle cx="400.78" cy="806.98" r="3.9" fill="url(#hl)"/><circle cx="423.44" cy="935.24" r="6.2" fill="#37AD6B"/><circle cx="421.64" cy="933.54" r="3.9" fill="url(#hl)"/><circle cx="444.29" cy="1058.27" r="6.2" fill="#37AD6B"/><circle cx="442.49" cy="1056.57" r="3.9" fill="url(#hl)"/><circle cx="465.15" cy="1079.14" r="6.2" fill="#37AD6B"/><circle cx="463.35" cy="1077.44" r="3.9" fill="url(#hl)"/><circle cx="486" cy="1082.66" r="6.2" fill="#37AD6B"/><circle cx="484.2" cy="1080.96" r="3.9" fill="url(#hl)"/><circle cx="506.86" cy="1084.29" r="6.2" fill="#37AD6B"/><circle cx="505.06" cy="1082.59" r="3.9" fill="url(#hl)"/><circle cx="527.71" cy="1084.56" r="6.2" fill="#37AD6B"/><circle cx="525.91" cy="1082.86" r="3.9" fill="url(#hl)"/><circle cx="548.57" cy="1084.83" r="6.2" fill="#37AD6B"/><circle cx="546.77" cy="1083.13" r="3.9" fill="url(#hl)"/><circle cx="590.28" cy="1085.1" r="6.2" fill="#37AD6B"/><circle cx="588.48" cy="1083.4" r="3.9" fill="url(#hl)"/><circle cx="631.99" cy="1085.1" r="6.2" fill="#37AD6B"/><circle cx="630.19" cy="1083.4" r="3.9" fill="url(#hl)"/><circle cx="673.7" cy="1085.1" r="6.2" fill="#37AD6B"/><circle cx="671.9" cy="1083.4" r="3.9" fill="url(#hl)"/></g><rect x="68.9" y="651.5" width="604.8" height="487.8" fill="none" stroke="#000" stroke-width="2.0"/><path d="M59.7 1139.3H68.9M59.7 1085.1H68.9M59.7 1030.9H68.9M59.7 976.7H68.9M59.7 922.5H68.9M59.7 868.3H68.9M59.7 814.1H68.9M59.7 759.9H68.9M59.7 705.7H68.9M59.7 651.5H68.9M64.3 1112.2H68.9M64.3 1058H68.9M64.3 1003.8H68.9M64.3 949.6H68.9M64.3 895.4H68.9M64.3 841.2H68.9M64.3 787H68.9M64.3 732.8H68.9M64.3 678.6H68.9M256.6 1139.3V1148.5M465.15 1139.3V1148.5M673.7 1139.3V1148.5M152.32 1139.3V1143.9M360.87 1139.3V1143.9M569.42 1139.3V1143.9" stroke="#000" stroke-width="2.0" fill="none"/><text x="52.8" y="1145.1" text-anchor="end" class="tk">−2</text><text x="52.8" y="1090.9" text-anchor="end" class="tk">0</text><text x="52.8" y="1036.7" text-anchor="end" class="tk">2</text><text x="52.8" y="982.5" text-anchor="end" class="tk">4</text><text x="52.8" y="928.3" text-anchor="end" class="tk">6</text><text x="52.8" y="874.1" text-anchor="end" class="tk">8</text><text x="52.8" y="819.9" text-anchor="end" class="tk">10</text><text x="52.8" y="765.7" text-anchor="end" class="tk">12</text><text x="52.8" y="711.5" text-anchor="end" class="tk">14</text><text x="52.8" y="657.3" text-anchor="end" class="tk">16</text><text x="256.6" y="1171.6" text-anchor="middle" class="tk">5</text><text x="465.15" y="1171.6" text-anchor="middle" class="tk">10</text><text x="673.7" y="1171.6" text-anchor="middle" class="tk">15</text><rect x="518.9" y="658.4" width="146.6" height="128.1" fill="#fff" stroke="#000" stroke-width="1.1"/><line x1="522.5" y1="675.5" x2="578.5" y2="675.5" stroke="#515151" stroke-width="3.6" stroke-linecap="round"/><circle cx="550.2" cy="675.5" r="6.2" fill="#515151"/><circle cx="548.4" cy="673.8" r="3.9" fill="url(#hl)"/><text x="585.19" y="684.1" class="lg">Vg=0V</text><line x1="522.5" y1="706.5" x2="578.5" y2="706.5" stroke="#F14040" stroke-width="3.6" stroke-linecap="round"/><circle cx="550.2" cy="706.5" r="6.2" fill="#F14040"/><circle cx="548.4" cy="704.8" r="3.9" fill="url(#hl)"/><text x="585.19" y="715.1" class="lg">Vg=2V</text><line x1="522.5" y1="737.5" x2="578.5" y2="737.5" stroke="#1A6FDF" stroke-width="3.6" stroke-linecap="round"/><circle cx="550.2" cy="737.5" r="6.2" fill="#1A6FDF"/><circle cx="548.4" cy="735.8" r="3.9" fill="url(#hl)"/><text x="585.19" y="746.1" class="lg">Vg=3V</text><line x1="522.5" y1="768.5" x2="578.5" y2="768.5" stroke="#37AD6B" stroke-width="3.6" stroke-linecap="round"/><circle cx="550.2" cy="768.5" r="6.2" fill="#37AD6B"/><circle cx="548.4" cy="766.8" r="3.9" fill="url(#hl)"/><text x="585.19" y="777.1" class="lg">Vg=4V</text><text transform="matrix(1.0031 0 0 1.0374 273.40 1210.70)" class="tt">Drain Voltage (V)</text><text transform="translate(18.0,1066.8) rotate(-90) scale(0.9944,1)" class="tt">Output Conductance (mS/mm)</text><text transform="matrix(1.0937 0 0 1.0247 327.05 1246.96)" class="cap">(b)</text>
</svg></body></html>
